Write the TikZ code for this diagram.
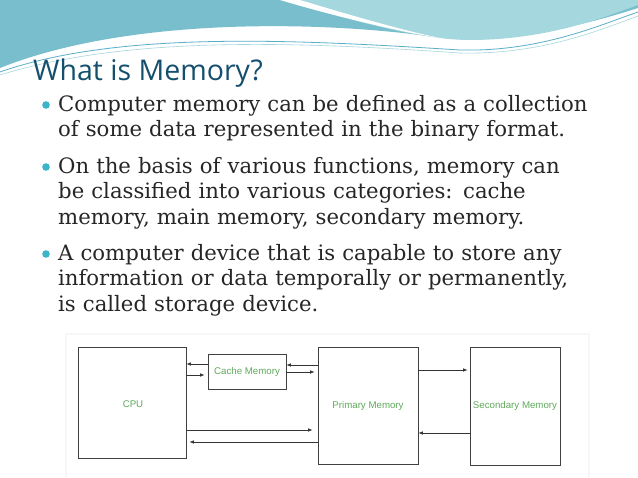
\documentclass[tikz,border=0pt]{standalone}
\usepackage{fontspec}
\setmainfont{DejaVu Serif}
\newfontfamily\titlefont{Open Sans}
\newfontfamily\arialf{Liberation Sans}
\usetikzlibrary{arrows.meta}
\definecolor{teal1}{RGB}{120,190,205}
\definecolor{teal2}{RGB}{165,215,222}
\definecolor{teal3}{RGB}{90,175,200}
\definecolor{titlec}{RGB}{20,80,110}
\definecolor{greenc}{RGB}{95,170,90}
\definecolor{bulc}{RGB}{60,180,200}
\tikzset{
 box/.style={draw=black!75,line width=0.6pt,fill=white,inner sep=0pt},
 lbl/.style={font=\arialf\fontsize{9.7}{11}\selectfont,text=greenc},
 arr/.style={-{Latex[length=4.5pt,width=3.5pt]},line width=0.7pt,black!80},
 bul/.style={anchor=north west,align=left,text width=600pt,font=\fontsize{21.2}{25.6}\selectfont,text=black!85,inner sep=0pt},
}
\begin{document}
\begin{tikzpicture}[x=1pt,y=-1pt]
\useasboundingbox (0,0) rectangle (638,478);
\fill[white] (0,0) rectangle (638,478);
% waves
\fill[teal1] (0,0) -- (0,68) .. controls (120,20) and (300,20) .. (420,35) .. controls (520,45) and (600,20) .. (638,8) -- (638,0) -- cycle;
\fill[teal2] (285,0) .. controls (350,20) and (420,40) .. (470,40) .. controls (550,40) and (610,15) .. (638,5) -- (638,0) -- cycle;
\fill[white] (280,0) .. controls (330,15) and (400,32) .. (440,38) .. controls (400,30) and (340,12) .. (300,0) -- cycle;
\draw[teal3,line width=0.8pt] (0,72) .. controls (120,30) and (300,40) .. (460,50) .. controls (540,52) and (600,25) .. (638,12);
\draw[teal2,line width=0.6pt] (0,75) .. controls (130,35) and (300,42) .. (460,53) .. controls (540,55) and (600,30) .. (638,16);
% title
\node[anchor=west,inner sep=0pt,text=titlec,font=\titlefont\fontsize{28.5}{32}\selectfont] (title) at (33,73) {What is Memory?};
% bullets
\foreach \y in {105,167,254}{\fill[bulc] (46,\y) circle (3.8);}
\node[bul] (b1) at (58,95) {Computer memory can be defined as a collection\\of some data represented in the binary format.};
\node[bul] (b2) at (58,157) {On the basis of various functions, memory can\\be classified into various categories: cache\\memory, main memory, secondary memory.};
\node[bul] (b3) at (58,244) {A computer device that is capable to store any\\information or data temporally or permanently,\\is called storage device.};
% diagram
\fill[white!97!black] (65,333) rectangle (590,478);
\fill[white] (67,335) rectangle (588,478);
\node[box,minimum width=108pt,minimum height=111pt] (cpu) at (132,402.5) {};
\node[lbl] at (133,404) {CPU};
\node[box,minimum width=78pt,minimum height=35pt,lbl] (cache) at (247,371.5) {Cache Memory};
\node[box,minimum width=100pt,minimum height=117pt,lbl] (prim) at (368,405.5) {Primary Memory};
\node[box,minimum width=90pt,minimum height=118pt,lbl] (sec) at (515,406) {Secondary Memory};
\draw[arr] (cache.west|-0,364) -- (cpu.east|-0,364);
\draw[arr] (cpu.east|-0,375) -- ([xshift=-3pt]cache.west|-0,375);
\draw[arr] (prim.west|-0,365) -- (cache.east|-0,365);
\draw[arr] (cache.east|-0,372) -- ([xshift=-3pt]prim.west|-0,372);
\draw[arr] (prim.east|-0,370) -- ([xshift=-2pt]sec.west|-0,370);
\draw[arr] (sec.west|-0,433) -- (prim.east|-0,433);
\draw[arr] (cpu.east|-0,430) -- ([xshift=-5pt]prim.west|-0,430);
\draw[arr] (prim.west|-0,442) -- ([xshift=3pt]cpu.east|-0,442);
\end{tikzpicture}
\end{document}
